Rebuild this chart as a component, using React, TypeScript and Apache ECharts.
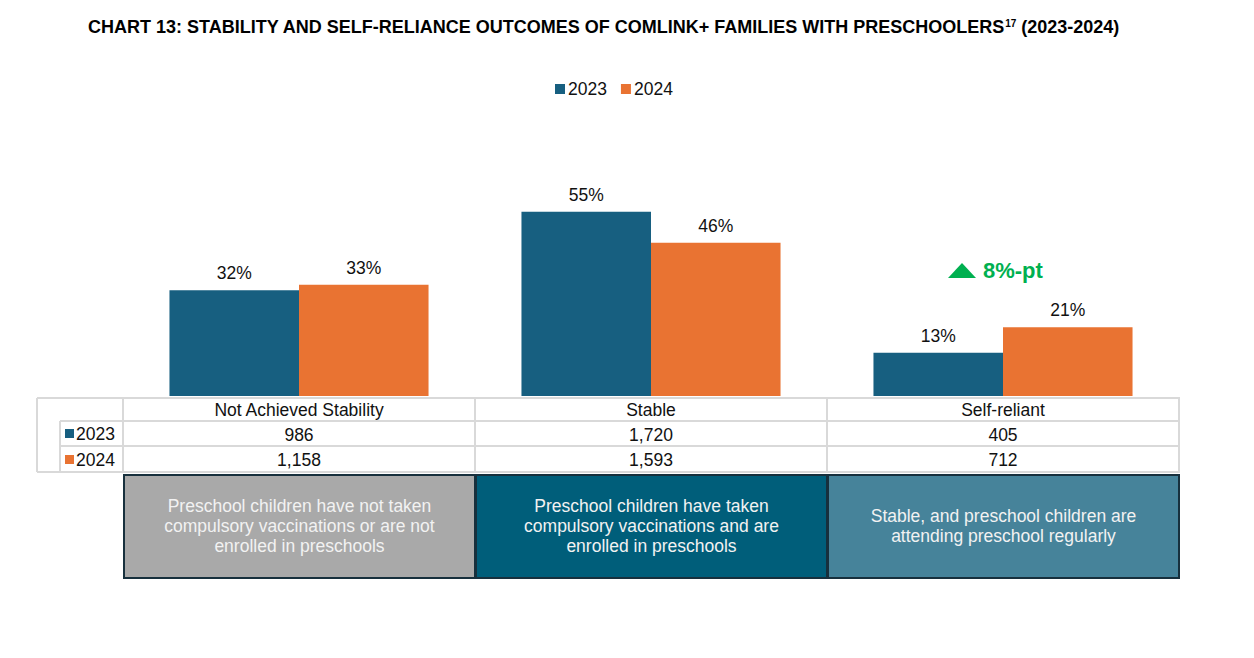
import React, { useEffect, useRef } from "react";
import * as echarts from "echarts";

const categories = ["Not Achieved Stability", "Stable", "Self-reliant"];
const share2023 = [31.7, 55.3, 13.0];
const share2024 = [33.4, 46.0, 20.6];
const counts2023 = [986, 1720, 405];
const counts2024 = [1158, 1593, 712];
const descriptions = [
  "Preschool children have not taken\ncompulsory vaccinations or are not\nenrolled in preschools",
  "Preschool children have taken\ncompulsory vaccinations and are\nenrolled in preschools",
  "Stable, and preschool children are\nattending preschool regularly",
];
const descColors = ["#a9a9a9", "#005e7a", "#46839a"];
const changeNote = "8%-pt";

const C2023 = "#175f80";
const C2024 = "#e97332";
const FONT = "Liberation Sans, Arial, sans-serif";
const FS = 17.5;

export default function App() {
  const ref = useRef<HTMLDivElement>(null);
  useEffect(() => {
    const chart = echarts.init(ref.current!, null, { renderer: "svg" });
    const fmt = (n: number) => n.toLocaleString("en-US");
    const grid = "#d9d9d9";
    const tblLines: any[] = [];
    const hl = (x1: number, x2: number, y: number) =>
      tblLines.push({ type: "line", shape: { x1, y1: y, x2, y2: y }, style: { stroke: grid, lineWidth: 2 }, silent: true });
    const vl = (x: number, y1: number, y2: number) =>
      tblLines.push({ type: "line", shape: { x1: x, y1, x2: x, y2 }, style: { stroke: grid, lineWidth: 2 }, silent: true });
    hl(37, 1180, 398);
    hl(60, 1180, 421);
    hl(60, 1180, 446);
    hl(37, 1180, 472);
    vl(37, 398, 472);
    vl(60, 421, 472);
    vl(123, 398, 472);
    vl(475, 398, 472);
    vl(827, 398, 472);
    vl(1179, 398, 472);

    const boxes: any[] = [];
    descriptions.forEach((d, i) => {
      const x = 124 + i * 352;
      boxes.push({
        type: "rect",
        shape: { x, y: 475, width: 351, height: 103 },
        style: { fill: descColors[i], stroke: "#17303d", lineWidth: 2 },
      });
      boxes.push({
        type: "text",
        x: x + 175.5,
        y: 526,
        style: {
          text: d,
          fill: "#f2f2f2",
          font: `${FS}px ${FONT}`,
          lineHeight: 20,
          align: "center",
          verticalAlign: "middle",
        },
      });
    });

    const rowKeys = [
      { c: C2023, t: "2023", y: 433 },
      { c: C2024, t: "2024", y: 459 },
    ].flatMap((r) => [
      { type: "rect", shape: { x: 65, y: r.y - 4, width: 9, height: 9 }, style: { fill: r.c } },
      { type: "text", x: 76, y: r.y + 1, style: { text: r.t, fill: "#111", font: `${FS}px ${FONT}`, verticalAlign: "middle" } },
    ]);

    chart.setOption({
      animation: false,
      title: {
        text: "CHART 13: STABILITY AND SELF-RELIANCE OUTCOMES OF COMLINK+ FAMILIES WITH PRESCHOOLERS{sup|17} (2023-2024)",
        left: 88,
        top: 18,
        padding: 0,
        textStyle: {
          fontFamily: FONT,
          fontSize: 18,
          fontWeight: "bold",
          color: "#000",
          rich: {
            sup: { fontSize: 10, fontWeight: "bold", verticalAlign: "top", padding: [0, 0, 8, 0], fontFamily: FONT },
          },
        },
      },
      legend: {
        top: 75,
        left: 550,
        itemWidth: 10,
        itemHeight: 10,
        itemGap: 14,
        icon: "rect",
        textStyle: { fontSize: FS, color: "#111", fontFamily: FONT, padding: [0, 0, 0, -2] },
        data: ["2023", "2024"],
      },
      grid: { left: 123, right: 75, top: 196, bottom: 262, containLabel: false },
      xAxis: {
        type: "category",
        data: categories,
        axisLine: { show: false },
        axisTick: { show: false },
        axisLabel: {
          interval: 0,
          margin: 1,
          fontSize: FS,
          lineHeight: 25,
          color: "#111",
          fontFamily: FONT,
          formatter: (v: string, i: number) => `${v}\n${fmt(counts2023[i])}\n${fmt(counts2024[i])}`,
        },
      },
      yAxis: { type: "value", min: 0, max: 60, show: false, splitLine: { show: false } },
      series: [
        {
          name: "2023",
          type: "bar",
          data: share2023,
          itemStyle: { color: C2023 },
          barGap: "0%",
          barCategoryGap: "26.4%",
          label: { show: true, position: "top", distance: 8, fontSize: FS, color: "#111", fontFamily: FONT, formatter: (p: any) => Math.round(p.value) + "%" },
        },
        {
          name: "2024",
          type: "bar",
          data: share2024,
          itemStyle: { color: C2024 },
          barGap: "0%",
          barCategoryGap: "26.4%",
          label: { show: true, position: "top", distance: 8, fontSize: FS, color: "#111", fontFamily: FONT, formatter: (p: any) => Math.round(p.value) + "%" },
        },
      ],
      graphic: [
        ...tblLines,
        ...rowKeys,
        ...boxes,
        {
          type: "polygon",
          shape: { points: [[948, 278], [976, 278], [962, 263]] },
          style: { fill: "#00b050" },
        },
        {
          type: "text",
          x: 983,
          y: 270,
          style: { text: changeNote, fill: "#00b050", font: `bold 22px ${FONT}`, verticalAlign: "middle" },
        },
      ],
    });
    return () => chart.dispose();
  }, []);
  return <div ref={ref} style={{ position: "fixed", left: 0, top: 0, width: 1254, height: 658, background: "#fff" }} />;
}
